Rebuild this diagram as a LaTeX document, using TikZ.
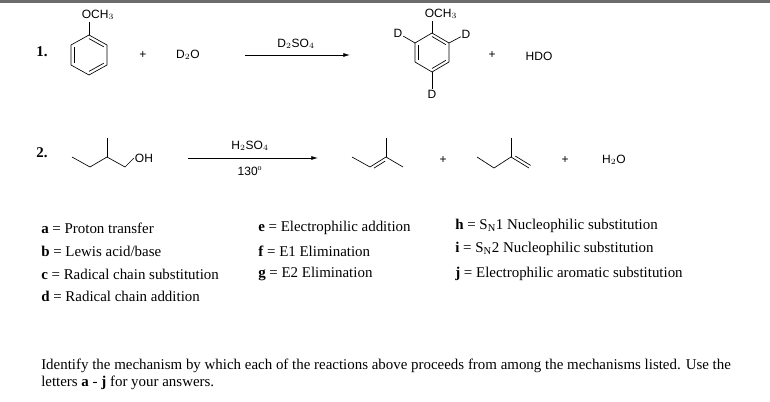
\documentclass[tikz,border=0pt]{standalone}
\usepackage{fontspec}
\setmainfont{Liberation Serif}
\newfontfamily\arialf{Liberation Sans}
\usetikzlibrary{arrows.meta,calc}
\begin{document}
\begin{tikzpicture}[x=0.75pt,y=-0.75pt,
  bond/.style={line width=0.5pt},
  chem/.style={font=\arialf\fontsize{9}{10}\selectfont,inner sep=0.5pt},
  leg/.style={font=\fontsize{11.2}{13}\selectfont,anchor=west,inner sep=0pt},
  num/.style={font=\bfseries\fontsize{11.2}{13}\selectfont,inner sep=0pt},
  rxn/.style={line width=0.6pt,-{Latex[length=5pt,width=3pt]}}]
\useasboundingbox (0,0) rectangle (770,402);
\fill[gray!85!black] (0,0) rectangle (770,3);
% reaction 1
\node[num] (n1) at (42,52) {1.};
\coordinate (ca) at (89,55);
\coordinate (a1) at (89,35); \coordinate (a2) at (107,45); \coordinate (a3) at (107,65);
\coordinate (a4) at (89,75); \coordinate (a5) at (71,65); \coordinate (a6) at (71,45);
\draw[bond] (a1)--(a2)--(a3)--(a4)--(a5)--(a6)--cycle;
\foreach \p/\q in {a1/a2,a3/a4,a5/a6}
  \draw[bond] ($(\p)!0.18!(ca)$) -- ($(\q)!0.18!(ca)$);
\node[chem] (o1) at (98,15) {OCH$_3$};
\draw[bond] (a1) -- (89,22);
\node[chem] (p1) at (143,55) {+};
\node[chem] (d2o) at (188,55) {D$_2$O};
\coordinate (r1s) at (245,55); \coordinate (r1e) at (350,55);
\draw[rxn] (r1s) -- (r1e);
\node[chem] (c1) at (296,44) {D$_2$SO$_4$};
\coordinate (cb) at (432,52.5);
\coordinate (b1) at (432,33); \coordinate (b2) at (449,43); \coordinate (b3) at (449,62);
\coordinate (b4) at (432,72); \coordinate (b5) at (415,62); \coordinate (b6) at (415,43);
\draw[bond] (b1)--(b2)--(b3)--(b4)--(b5)--(b6)--cycle;
\foreach \p/\q in {b1/b2,b3/b4,b5/b6}
  \draw[bond] ($(\p)!0.18!(cb)$) -- ($(\q)!0.18!(cb)$);
\draw[bond] (b1)--(432,21);
\node[chem] (o2) at (441,14) {OCH$_3$};
\node[chem] (dl) at (398,33) {D}; \draw[bond] (b6)--(dl);
\node[chem] (dr) at (466,34) {D}; \draw[bond] (b2)--(dr);
\node[chem] (db) at (432,94) {D}; \draw[bond] (b4)--(db);
\node[chem] (p2) at (492,55) {+};
\node[chem] (hdo) at (539,56) {HDO};
% reaction 2
\node[num] (n2) at (42,153) {2.};
\coordinate (s1) at (72,157); \coordinate (s2) at (90,167); \coordinate (s3) at (107,157);
\coordinate (s4) at (125,167); \coordinate (s5) at (107,138);
\node[chem,anchor=west] (oh) at (134,158) {OH};
\draw[bond] (s1)--(s2)--(s3)--(s4)--(oh.west); \draw[bond] (s3)--(s5);
\coordinate (r2s) at (188,158); \coordinate (r2e) at (318,158);
\draw[rxn] (r2s) -- (r2e);
\node[chem] (c2) at (250,146) {H$_2$SO$_4$};
\node[chem] (c3) at (250,171) {130$^{\mathrm{o}}$};
\coordinate (t1) at (352,157); \coordinate (t2) at (370,167); \coordinate (t3) at (386,157);
\coordinate (t4) at (403,167); \coordinate (t5) at (386,138);
\draw[bond] (t1)--(t2)--(t3)--(t4); \draw[bond] (t3)--(t5);
\draw[bond] ($(t2)!0.15!(t3)+(1.6,2.6)$) -- ($(t2)!0.85!(t3)+(1.6,2.6)$);
\node[chem] (p3) at (443,160) {+};
\coordinate (u1) at (477,157); \coordinate (u2) at (494,168); \coordinate (u3) at (511,157);
\coordinate (u4) at (529,168); \coordinate (u5) at (511,138);
\draw[bond] (u1)--(u2)--(u3)--(u4); \draw[bond] (u3)--(u5);
\draw[bond] ($(u3)!0.15!(u4)+(1.6,-2.6)$) -- ($(u4)+(1.6,-2.6)$);
\node[chem] (p4) at (565,160) {+};
\node[chem] (h2o) at (614,160) {H$_2$O};
% legend
\node[leg] (la) at (41,228) {\textbf{a} = Proton transfer};
\node[leg] (lb) at (41,251) {\textbf{b} = Lewis acid/base};
\node[leg] (lc) at (41,274) {\textbf{c} = Radical chain substitution};
\node[leg] (ld) at (41,296) {\textbf{d} = Radical chain addition};
\node[leg] (le) at (258,228) {\textbf{e} = Electrophilic addition};
\node[leg] (lf) at (258,251) {\textbf{f} = E1 Elimination};
\node[leg] (lg) at (258,274) {\textbf{g} = E2 Elimination};
\node[leg] (lh) at (455,226) {\textbf{h} = S$_{\mathrm{N}}$1 Nucleophilic substitution};
\node[leg] (li) at (455,249) {\textbf{i} = S$_{\mathrm{N}}$2 Nucleophilic substitution};
\node[leg] (lj) at (455,274) {\textbf{j} = Electrophilic aromatic substitution};
\node[leg] (q1) at (41,366) {Identify the mechanism by which each of the reactions above proceeds from among the mechanisms listed. Use the};
\node[leg] (q2) at (41,383) {letters \textbf{a} - \textbf{j} for your answers.};
\end{tikzpicture}
\end{document}
